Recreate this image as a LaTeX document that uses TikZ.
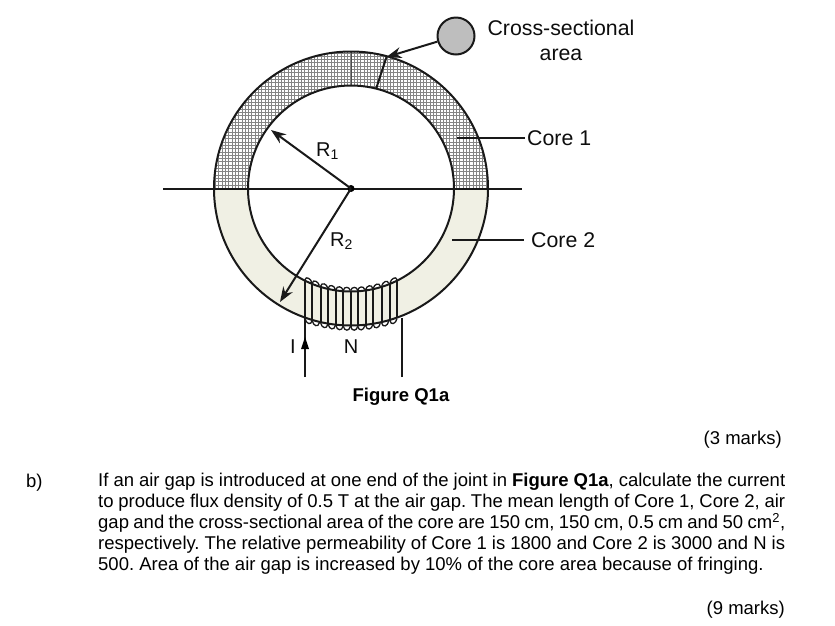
\documentclass[tikz,border=0pt]{standalone}
\usepackage{fontspec}
\setmainfont{Liberation Sans}
\usetikzlibrary{arrows.meta,calc}
\definecolor{coretwo}{HTML}{F0F0E4}
\definecolor{sectgray}{HTML}{BEBEBE}
\tikzset{
  ring/.style={line width=2pt,black!90},
  lead/.style={line width=2pt,black!90},
  tipline/.style={line width=2pt,black!90,-{Stealth[length=15pt,width=11pt]}},
  lab/.style={inner sep=0pt,font=\fontsize{21.3}{24}\selectfont,text=black!95},
  smalllab/.style={inner sep=0pt,font=\fontsize{20}{22}\selectfont,text=black!95},
  body/.style={inner sep=0pt,font=\frenchspacing\fontsize{18.5}{21}\selectfont,text=black},
  turn/.style={line width=1.7pt,black!90},
}
\begin{document}
\begin{tikzpicture}[x=1pt,y=-1pt]
\useasboundingbox (0,0) rectangle (835,625);
\coordinate (c) at (351,188.5);
% core 2
\fill[coretwo] (214,188.5) arc[start angle=180,end angle=360,x radius=137,y radius=-137]
  -- (454,188.5) arc[start angle=360,end angle=180,x radius=103,y radius=-103] -- cycle;
% core 1 hatching
\begin{scope}
\clip (214,188.5) arc[start angle=180,end angle=0,x radius=137,y radius=-137]
  -- (454,188.5) arc[start angle=0,end angle=180,x radius=103,y radius=-103] -- cycle;
\fill[white] (200,40) rectangle (500,190);
\foreach \k in {0,...,85}{
  \draw[line width=0.4pt,black!48] ({212+\k*3.3},45) -- ({212+\k*3.3},190);
}
\foreach \k in {0,...,44}{
  \draw[line width=0.4pt,black!48] (210,{188-\k*3.3}) -- (492,{188-\k*3.3});
}
\draw[line width=0.6pt,black!70] (351,50) -- (351,88);
\end{scope}
% ring outlines
\draw[ring] (c) circle[radius=137];
\draw[ring] (c) circle[radius=103];
% axis
\coordinate (axL) at (163,188.5);
\coordinate (axR) at (522,188.5);
\draw[lead] (axL) -- (axR);
\fill (c) circle[radius=3.5];
% cross-section
\node[circle,draw=black!90,line width=2pt,fill=sectgray,minimum size=37pt,inner sep=0pt] (sect) at (456,36) {};
\coordinate (secA) at (386.5,57);
\coordinate (secB) at (376,89);
\draw[tipline] (sect) -- (secA);
\draw[lead] (secA) -- (secB);
% radii
\coordinate (r1) at (271,130);
\coordinate (r2) at (280,302);
\draw[tipline] (c) -- (r1);
\draw[tipline] (c) -- (r2);
\node[smalllab] (lr1) at (327.5,151) {R\textsubscript{1}};
\node[smalllab] (lr2) at (341.5,241) {R\textsubscript{2}};
% core labels
\node[lab,anchor=west] (core1) at (527,138) {Core 1};
\node[lab,anchor=west] (core2) at (531,240) {Core 2};
\coordinate (c1a) at (457,138);
\coordinate (c2a) at (452,240);
\draw[lead] (c1a) -- ([xshift=-2pt]core1.west);
\draw[lead] (c2a) -- ([xshift=-7pt]core2.west);
\node[lab,align=center] (xs) at (561,40.5) {Cross-sectional\\[1pt]area};
% coil
\foreach \x in {305,312.3,320.7,328.3,336,343.3,350.7,357.7,365.7,373.3,381.7,390,397.3}{
  \pgfmathsetmacro{\yi}{188.5+103*sqrt(1-((\x-351)/103)^2)}
  \pgfmathsetmacro{\yo}{188.5+137*sqrt(1-((\x-351)/137)^2)}
  \pgfmathsetmacro{\xn}{\x+7}
  \pgfmathsetmacro{\yon}{188.5+137*sqrt(1-((\x+7-351)/137)^2)}
  \pgfmathsetmacro{\yin}{188.5+103*sqrt(1-((\x+7-351)/103)^2)}
  \draw[turn] (\x,\yi-1) -- (\x,\yo+1);
  \ifdim\x pt<397pt
    \draw[line width=1.3pt,black!90] (\x,\yo+1) .. controls (\x+1,\yo+6) and (\xn-1,\yon+6) .. (\xn,\yon+1);
    \draw[line width=1.3pt,black!90] (\x,\yi-1) .. controls (\x+1,\yi-5) and (\xn-1,\yin-5) .. (\xn,\yin-1);
  \fi
}
% leads
\coordinate (la) at (305,377);
\coordinate (lb) at (305,318);
\coordinate (ra) at (402,377);
\coordinate (rb) at (402,318);
\draw[lead] (la) -- (lb);
\draw[lead] (ra) -- (rb);
\fill (305,337) -- (301,349) -- (309,349) -- cycle;
\node[smalllab] (li) at (293,346.5) {I};
\node[smalllab] (ln) at (351,346.5) {N};
\node[body,font=\fontsize{18.5}{21}\selectfont\bfseries] (fig) at (401,397) {Figure Q1a};
% text
\node[body,anchor=east] (m3) at (782,439.5) {(3 marks)};
\node[body,anchor=west] (bb) at (26,482.5) {b)};
\node[body,anchor=north west,text width=687pt,align=justify] (para) at (98,473) {If an air gap is introduced at one end of the joint in \textbf{Figure Q1a}, calculate the current\linebreak
to produce flux density of 0.5 T at the air gap. The mean length of Core 1, Core 2, air\linebreak
gap and the cross-sectional area of the core are 150 cm, 150 cm, 0.5 cm and 50 cm\textsuperscript{2},\linebreak
respectively. The relative permeability of Core 1 is 1800 and Core 2 is 3000 and N is\linebreak
500. Area of the air gap is increased by 10\% of the core area because of fringing.};
\node[body,anchor=east] (m9) at (785,609.5) {(9 marks)};
\end{tikzpicture}
\end{document}
